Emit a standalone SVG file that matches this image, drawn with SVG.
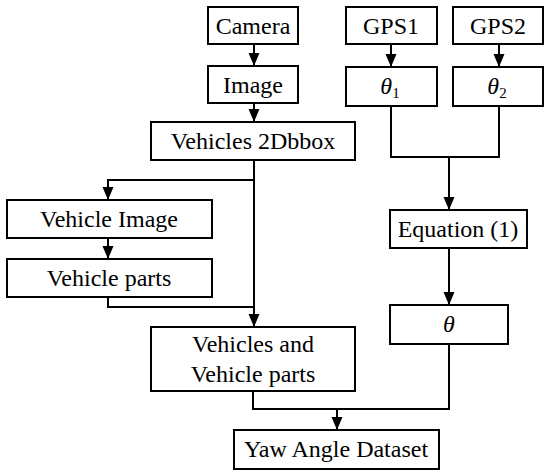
<svg xmlns="http://www.w3.org/2000/svg" width="550" height="475" viewBox="0 0 550 475">
<style>
rect{fill:#fff;stroke:#000;stroke-width:2}
rect.bg{fill:#fff;stroke:none}
text{font-family:"Liberation Serif","Times New Roman",serif;font-size:24px;fill:#000;text-anchor:middle}
.c path{fill:none;stroke:#000;stroke-width:2}
.m{font-style:italic}
.s{font-size:15px;font-style:normal}
</style>
<defs>
<marker id="ah" markerUnits="userSpaceOnUse" markerWidth="13" markerHeight="12" viewBox="0 0 13 12" refX="13" refY="6" orient="auto">
<path d="M0,0.5 L13,6 L0,11.5 Z" fill="#000" stroke="none"/>
</marker>
</defs>
<rect class="bg" width="550" height="475"/>
<g class="c">
<path d="M254 44 V66" marker-end="url(#ah)"/>
<path d="M254 103 V122" marker-end="url(#ah)"/>
<path d="M254 160 V327" marker-end="url(#ah)"/>
<path d="M254 180 H108 V200" marker-end="url(#ah)"/>
<path d="M108 238 V259" marker-end="url(#ah)"/>
<path d="M108 297 V307 H254"/>
<path d="M391 44 V67" marker-end="url(#ah)"/>
<path d="M499 44 V67" marker-end="url(#ah)"/>
<path d="M391 106 V157 H499 V106"/>
<path d="M449 157 V210" marker-end="url(#ah)"/>
<path d="M449 248 V305" marker-end="url(#ah)"/>
<path d="M449 344 V409 H337 V430" marker-end="url(#ah)"/>
<path d="M253 391 V409 H337"/>
</g>
<g id="camera"><rect x="208" y="7" width="90" height="37"/><text x="253" y="34">Camera</text></g>
<g id="image"><rect x="208" y="66" width="90" height="37"/><text x="253" y="93">Image</text></g>
<g id="bbox"><rect x="151" y="122" width="204" height="38"/><text x="253" y="149">Vehicles 2Dbbox</text></g>
<g id="vimage"><rect x="7" y="200" width="205" height="38"/><text x="109" y="227">Vehicle Image</text></g>
<g id="vparts"><rect x="7" y="259" width="205" height="38"/><text x="109" y="286">Vehicle parts</text></g>
<g id="vvp"><rect x="151" y="327" width="204" height="64"/><text x="253" y="352">Vehicles and</text><text x="253" y="382">Vehicle parts</text></g>
<g id="gps1"><rect x="346" y="7" width="91" height="37"/><text x="391" y="34">GPS1</text></g>
<g id="gps2"><rect x="453" y="7" width="90" height="37"/><text x="498" y="34">GPS2</text></g>
<g id="theta1"><rect x="346" y="67" width="91" height="39"/><text x="390" y="94"><tspan class="m">θ</tspan><tspan class="s" dy="4">1</tspan></text></g>
<g id="theta2"><rect x="453" y="67" width="90" height="39"/><text x="497" y="94"><tspan class="m">θ</tspan><tspan class="s" dy="4">2</tspan></text></g>
<g id="equation"><rect x="390" y="210" width="137" height="38"/><text x="458" y="237">Equation (1)</text></g>
<g id="theta"><rect x="390" y="305" width="118" height="39"/><text x="449" y="332" class="m">θ</text></g>
<g id="yaw"><rect x="234" y="430" width="205" height="39"/><text x="336" y="457">Yaw Angle Dataset</text></g>
</svg>
